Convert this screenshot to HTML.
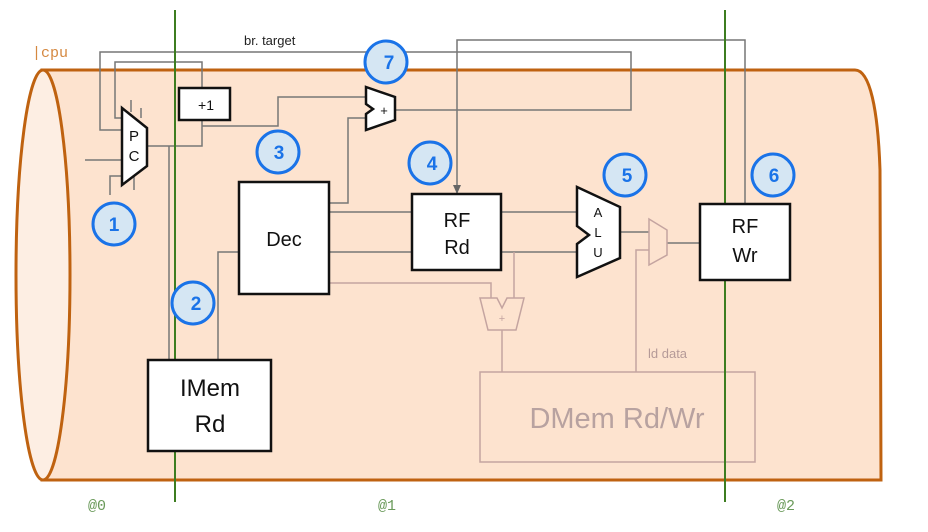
<!DOCTYPE html>
<html><head><meta charset="utf-8"><style>
html,body{margin:0;padding:0;background:#fff;}
svg{display:block;font-family:"Liberation Sans",sans-serif;}
</style></head><body>
<svg width="928" height="532" viewBox="0 0 928 532" xmlns="http://www.w3.org/2000/svg">
<!-- cylinder -->
<path d="M42,70 L855,70 C870,70 878,110 880,170 L881,480 L42,480 Z" fill="#fde3cf" stroke="#bf6210" stroke-width="3"/>
<ellipse cx="43" cy="275" rx="27" ry="205" fill="#fdeee3" stroke="#bf6210" stroke-width="3"/>
<text x="32" y="57" font-family="Liberation Mono,monospace" font-size="15" fill="#d58840">|cpu</text>

<!-- grey wires -->
<g fill="none" stroke="#777" stroke-width="1.5">
<polyline points="395,110 631,110 631,52 100,52 100,130 122,130"/>
<polyline points="457,193 457,40 745,40 745,204"/>
<polyline points="122,118 115,118 115,62 202,62 202,88"/>
<polyline points="147,146 202,146 202,120"/>
<polyline points="202,126 278,126 278,97 366,97"/>
<line x1="85" y1="160" x2="122" y2="160"/>
<polyline points="110,195 110,176 122,176"/>
<line x1="131" y1="100" x2="131" y2="112"/>
<line x1="141" y1="108" x2="141" y2="118"/>
<line x1="134" y1="176" x2="134" y2="190"/>
<polyline points="169,146 169,360"/>
<polyline points="239,252 218,252 218,360"/>
<polyline points="329,203 348,203 348,118 366,118"/>
<line x1="329" y1="212" x2="412" y2="212"/>
<line x1="329" y1="252" x2="412" y2="252"/>
<line x1="501" y1="212" x2="577" y2="212"/>
<line x1="501" y1="252" x2="577" y2="252"/>
<line x1="620" y1="232" x2="649" y2="232"/>
<line x1="667" y1="243" x2="700" y2="243"/>
</g>
<polygon points="453,185 461,185 457,194" fill="#666"/>
<!-- pink wires -->
<g fill="none" stroke="#c4a4a0" stroke-width="1.5">
<polyline points="329,283 491,283 491,298"/>
<polyline points="514,252 514,298"/>
<line x1="502" y1="330" x2="502" y2="372"/>
<polyline points="636,372 636,250 649,250"/>
<polygon points="649,219 667,230 667,255 649,265"/>
<polygon points="480,298 497,298 502,308 507,298 524,298 516,330 488,330"/>
<rect x="480" y="372" width="275" height="90"/>
</g>
<text x="502" y="322" font-size="11" fill="#c4a4a0" text-anchor="middle">+</text>
<text x="648" y="358" font-size="13" fill="#b59a98">ld data</text>
<text x="617" y="428" font-size="29" fill="#b8a2a0" text-anchor="middle">DMem Rd/Wr</text>

<!-- green stage lines -->
<line x1="175" y1="10" x2="175" y2="502" stroke="#3d7d20" stroke-width="2"/>
<line x1="725" y1="10" x2="725" y2="502" stroke="#3d7d20" stroke-width="2"/>

<!-- components -->
<g fill="#fff" stroke="#111" stroke-width="2.5">
<rect x="179" y="88" width="51" height="32"/>
<polygon points="122,108 147,128 147,166 122,185"/>
<rect x="239" y="182" width="90" height="112"/>
<rect x="148" y="360" width="123" height="91"/>
<rect x="412" y="194" width="89" height="76"/>
<polygon points="577,187 620,207 620,258 577,277 577,244 589,235 577,226"/>
<rect x="700" y="204" width="90" height="76"/>
<polygon points="366,87 395,97 395,120 366,130 366,114 373,109 366,104"/>
</g>
<g fill="#111" text-anchor="middle">
<text x="206" y="110" font-size="14">+1</text>
<text x="134" y="141" font-size="15">P</text>
<text x="134" y="161" font-size="15">C</text>
<text x="284" y="246" font-size="20">Dec</text>
<text x="210" y="396" font-size="24">IMem</text>
<text x="210" y="432" font-size="24">Rd</text>
<text x="457" y="227" font-size="20">RF</text>
<text x="457" y="254" font-size="20">Rd</text>
<text x="598" y="217" font-size="13">A</text>
<text x="598" y="237" font-size="13">L</text>
<text x="598" y="257" font-size="13">U</text>
<text x="745" y="233" font-size="20">RF</text>
<text x="745" y="262" font-size="20">Wr</text>
<text x="384" y="115" font-size="13">+</text>
</g>
<text x="244" y="45" font-size="13" fill="#222">br. target</text>

<!-- numbered circles -->
<g fill="#d5e6f3" stroke="#1a73e8" stroke-width="3">
<circle cx="114" cy="224" r="21"/>
<circle cx="193" cy="303" r="21"/>
<circle cx="278" cy="152" r="21"/>
<circle cx="430" cy="163" r="21"/>
<circle cx="625" cy="175" r="21"/>
<circle cx="773" cy="175" r="21"/>
<circle cx="386" cy="62" r="21"/>
</g>
<g fill="#1a73e8" font-size="19" font-weight="bold" text-anchor="middle">
<text x="114" y="231">1</text>
<text x="196" y="310">2</text>
<text x="279" y="159">3</text>
<text x="432" y="170">4</text>
<text x="627" y="182">5</text>
<text x="774" y="182">6</text>
<text x="389" y="69">7</text>
</g>

<g font-family="Liberation Mono,monospace" font-size="15" fill="#6a9a5a">
<text x="88" y="510">@0</text>
<text x="378" y="510">@1</text>
<text x="777" y="510">@2</text>
</g>
</svg>
</body></html>
